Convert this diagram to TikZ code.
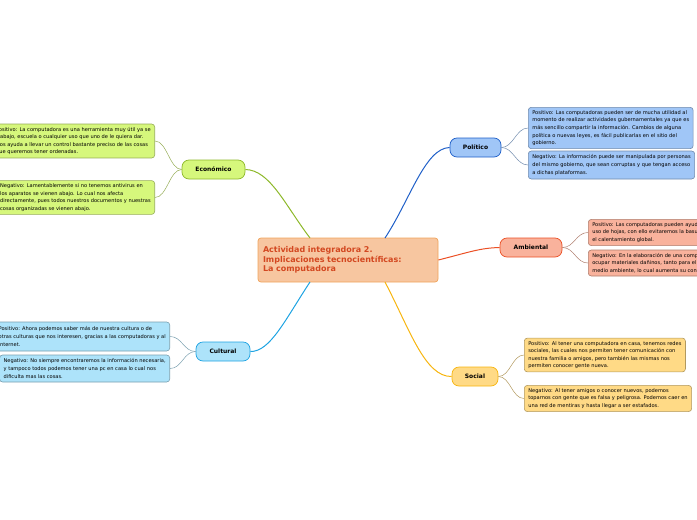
\documentclass[tikz,border=0pt]{standalone}
\usepackage{fontspec}
\setmainfont{DejaVu Sans}
\usetikzlibrary{calc}
\begin{document}
\begin{tikzpicture}[x=1pt,y=-1pt,
 leaf/.style={draw=#1!70!black,rounded corners=3pt,line width=0.6pt,font=\fontsize{5.1}{7.6}\selectfont,align=left,inner xsep=4pt,inner ysep=3pt},
 mid/.style={draw=#1,rounded corners=7pt,line width=0.7pt,font=\fontsize{6}{7}\selectfont\bfseries,minimum height=19pt,inner sep=0pt},
 con/.style={line width=1pt,draw=#1},
 sub/.style={line width=0.5pt,draw=#1}]
\useasboundingbox (0,0) rectangle (697,520);
\clip (0,0) rectangle (697,520);
\definecolor{cgr}{HTML}{8DB82A}\definecolor{fgr}{HTML}{D6F77C}
\definecolor{cbl}{HTML}{1EA3E2}\definecolor{fbl}{HTML}{ADE3FA}
\definecolor{cpo}{HTML}{1F5FC8}\definecolor{fpo}{HTML}{A0C6F7}
\definecolor{cam}{HTML}{EB5025}\definecolor{fam}{HTML}{F9B29C}
\definecolor{cso}{HTML}{F7B50F}\definecolor{fso}{HTML}{FFDA86}
\definecolor{cce}{HTML}{F0A35A}\definecolor{fce}{HTML}{F7C6A0}

\node[draw=cce,fill=fce,rounded corners=3pt,line width=0.7pt,minimum width=180pt,minimum height=44pt,text width=170pt,align=left,font=\fontsize{8}{9.5}\selectfont\bfseries,text=cam!90!black] (c) at (348,260) {Actividad integradora 2.\\Implicaciones tecnocientíficas:\\La computadora};

\node[mid=cgr,fill=fgr,minimum width=63pt] (eco) at (213.5,169.5) {Económico};
\node[mid=cbl,fill=fbl,minimum width=54pt] (cul) at (223,351.5) {Cultural};
\node[mid=cpo,fill=fpo,minimum width=51pt] (pol) at (475.5,147.5) {Político};
\node[mid=cam,fill=fam,minimum width=62pt] (amb) at (531,247.5) {Ambiental};
\node[mid=cso,fill=fso,minimum width=46pt] (soc) at (475,376.5) {Social};

\coordinate (c1) at (310,238);\coordinate (c2) at (310,282);
\coordinate (c3) at (385,238);\coordinate (c4) at (385,282);
\draw[con=cgr] (c1) .. controls (285,205) and (270,170) .. (eco.east);
\draw[con=cbl] (c2) .. controls (285,320) and (270,352) .. (cul.east);
\draw[con=cpo] (c3) .. controls (410,200) and (425,148) .. (pol.west);
\draw[con=cam] (c.east) .. controls (470,252) and (480,248) .. (amb.west);
\draw[con=cso] (c4) .. controls (410,330) and (425,377) .. (soc.west);

\node[leaf=fgr,fill=fgr,minimum height=32pt,anchor=east] (e1) at (155,141) {Positivo: La computadora es una herramienta muy útil ya se\\trabajo, escuela o cualquier uso que uno de le quiera dar.\\Nos ayuda a llevar un control bastante preciso de las cosas\\que queremos tener ordenadas.};
\node[leaf=fgr,fill=fgr,minimum height=32pt,anchor=east] (e2) at (155,197.5) {Negativo: Lamentablemente si no tenemos antivirus en\\los aparatos se vienen abajo. Lo cual nos afecta\\directamente, pues todos nuestros documentos y nuestras\\cosas organizadas se vienen abajo.};
\node[leaf=fbl,fill=fbl,minimum height=29pt,anchor=east] (u1) at (170,336.5) {Positivo: Ahora podemos saber más de nuestra cultura o de\\otras culturas que nos interesen, gracias a las computadoras y al\\internet.};
\node[leaf=fbl,fill=fbl,minimum height=27pt,anchor=east] (u2) at (170,368.5) {Negativo: No siempre encontraremos la información necesaria,\\y tampoco todos podemos tener una pc en casa lo cual nos\\dificulta mas las cosas.};
\node[leaf=fpo,fill=fpo,minimum height=38pt,anchor=west] (p1) at (528,128) {Positivo: Las computadoras pueden ser de mucha utilidad al\\momento de realizar actividades gubernamentales ya que es\\más sencillo compartir la información. Cambios de alguna\\política o nuevas leyes, es fácil publicarlas en el sitio del\\gobierno.};
\node[leaf=fpo,fill=fpo,minimum height=28pt,anchor=west] (p2) at (528,165) {Negativo: La información puede ser manipulada por personas\\del mismo gobierno, que sean corruptas y que tengan acceso\\a dichas plataformas.};
\node[leaf=fam,fill=fam,minimum height=25pt,anchor=west] (a1) at (588,232.5) {Positivo: Las computadoras pueden ayudar a reducir el\\uso de hojas, con ello evitaremos la basura y\\el calentamiento global.};
\node[leaf=fam,fill=fam,minimum height=26pt,anchor=west] (a2) at (588,263) {Negativo: En la elaboración de una computadora se necesita\\ocupar materiales dañinos, tanto para el ser humano como el\\medio ambiente, lo cual aumenta su contaminación.};
\node[leaf=fso,fill=fso,minimum height=32pt,anchor=west] (s1) at (524,355) {Positivo: Al tener una computadora en casa, tenemos redes\\sociales, las cuales nos permiten tener comunicación con\\nuestra familia o amigos, pero también las mismas nos\\permiten conocer gente nueva.};
\node[leaf=fso,fill=fso,minimum height=25pt,anchor=west] (s2) at (524,398.5) {Negativo: Al tener amigos o conocer nuevos, podemos\\toparnos con gente que es falsa y peligrosa. Podemos caer en\\una red de mentiras y hasta llegar a ser estafados.};

\foreach \p/\k/\cc in {eco/e1/fgr,eco/e2/fgr,cul/u1/fbl,cul/u2/fbl}
  \draw[sub=\cc!70!black] (\p.west) .. controls ($(\p.west)+(-12,0)$) and ($(\k.east)+(12,0)$) .. (\k.east);
\foreach \p/\k/\cc in {pol/p1/fpo,pol/p2/fpo,amb/a1/fam,amb/a2/fam,soc/s1/fso,soc/s2/fso}
  \draw[sub=\cc!70!black] (\p.east) .. controls ($(\p.east)+(12,0)$) and ($(\k.west)+(-12,0)$) .. (\k.west);
\end{tikzpicture}
\end{document}
